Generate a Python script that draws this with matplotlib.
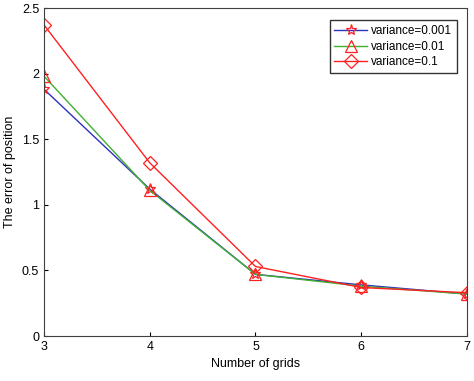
import matplotlib
matplotlib.use("Agg")
import matplotlib.pyplot as plt

plt.rcParams['font.family'] = ['Liberation Sans', 'DejaVu Sans']

grids = [3, 4, 5, 6, 7]
err_001 = [1.88, 1.12, 0.47, 0.39, 0.32]
err_01 = [1.98, 1.11, 0.47, 0.38, 0.32]
err_1 = [2.37, 1.32, 0.53, 0.37, 0.33]

fig = plt.figure(figsize=(4.74, 3.81), dpi=100)
ax = fig.add_axes([0.093, 0.118, 0.892, 0.861])

mk = dict(markerfacecolor='none', markeredgecolor='#ff2020', markersize=8, markeredgewidth=0.9, linewidth=1)
ax.plot(grids, err_001, color='#3030c0', marker='*', label='variance=0.001', **mk)
ax.plot(grids, err_01, color='#40b030', marker='^', label='variance=0.01', **mk)
ax.plot(grids, err_1, color='#ff2020', marker='D', label='variance=0.1', **dict(mk, markersize=7))

ax.set_xlim(3, 7)
ax.set_ylim(0, 2.5)
ax.set_xticks(grids)
ax.set_yticks([0, 0.5, 1, 1.5, 2, 2.5])
ax.set_yticklabels(['0', '0.5', '1', '1.5', '2', '2.5'])
ax.tick_params(direction='in', labelsize=9, length=3, top=False, right=False)
ax.set_xlabel('Number of grids', fontsize=9)
ax.set_ylabel('The error of position', fontsize=9)
for s in ax.spines.values():
    s.set_linewidth(0.8)
    s.set_color('#404040')

ax.legend(loc='upper right', bbox_to_anchor=(0.99, 0.98), fontsize=8.5, frameon=True,
          fancybox=False, edgecolor='black', handlelength=2.8, borderpad=0.4,
          labelspacing=0.3, handletextpad=0.3)

fig.savefig('out.png', dpi=100)
